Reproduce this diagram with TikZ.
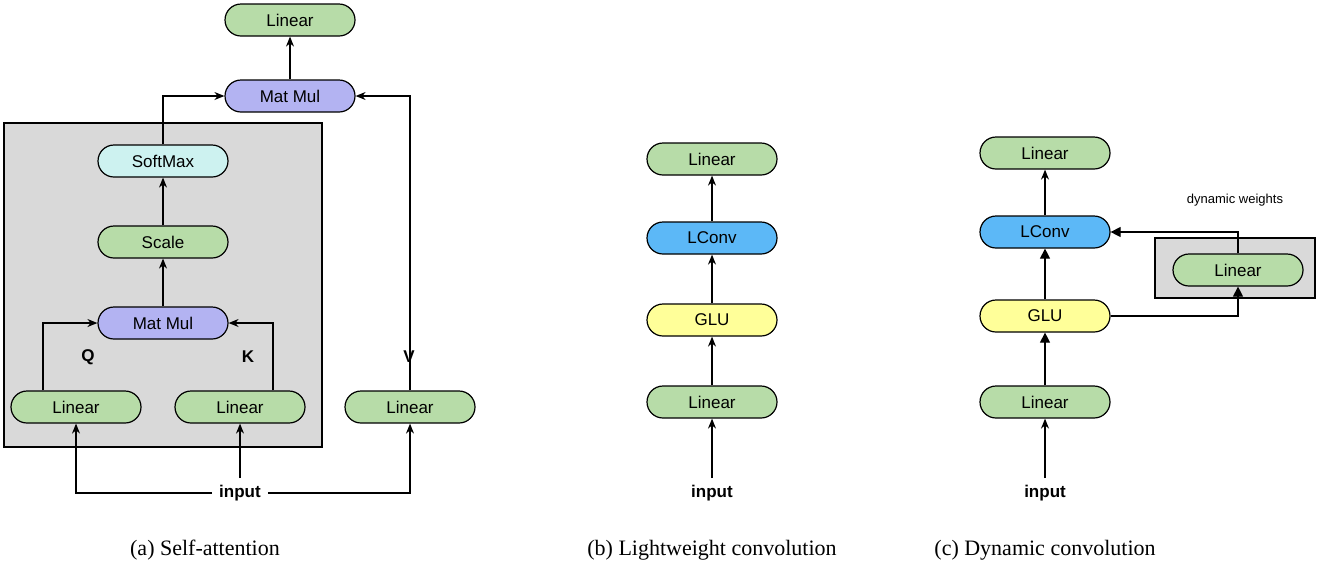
\documentclass[tikz,border=0pt]{standalone}
\usepackage{fontspec}
\setmainfont{Liberation Serif}
\newfontfamily\hsans{Liberation Sans}
\usetikzlibrary{arrows.meta}
\definecolor{cgreen}{HTML}{B7DCA8}
\definecolor{cpurp}{HTML}{B3B3F2}
\definecolor{ccyan}{HTML}{CDF2F0}
\definecolor{cblue}{HTML}{5CB8F7}
\definecolor{cyell}{HTML}{FFFF99}
\definecolor{cgray}{HTML}{D9D9D9}
\begin{document}
\begin{tikzpicture}[x=0.5pt,y=-0.5pt,
 blk/.style={draw=black,line width=0.6pt,rounded corners=8pt,minimum width=65pt,minimum height=16pt,inner sep=0pt,font=\hsans\fontsize{8.5}{10}\selectfont},
 lab/.style={font=\hsans\bfseries\fontsize{8.5}{10}\selectfont},
 captxt/.style={font=\fontsize{11}{13}\selectfont},
 ar/.style={line width=0.6pt,-{Stealth[length=5pt,width=4pt,open,fill=black]}},
 arf/.style={line width=0.6pt,-{Triangle[length=5pt,width=5pt]}},
 box/.style={draw=black,line width=0.6pt,fill=cgray}]
\useasboundingbox (0,0) rectangle (1325,570);
% (a)
\path[box] (4,123) rectangle (322,447);
\node[blk,fill=cgreen] (aL) at (290,20) {Linear};
\node[blk,fill=cpurp] (aM) at (290,96) {Mat Mul};
\node[blk,fill=ccyan] (aS) at (163,161) {SoftMax};
\node[blk,fill=cgreen] (aSc) at (163,242) {Scale};
\node[blk,fill=cpurp] (aM2) at (163,323) {Mat Mul};
\node[blk,fill=cgreen] (aQ) at (76,407) {Linear};
\node[blk,fill=cgreen] (aK) at (240,407) {Linear};
\node[blk,fill=cgreen] (aV) at (410,407) {Linear};
\node[lab] (lQ) at (88,357) {Q};
\node[lab] (lK) at (248,357) {K};
\node[lab] (lV) at (409,357) {V};
\node[lab] (ain) at (240,493) {input};
\draw[ar] (ain.west) -| (aQ.south);
\draw[ar] (ain.north) -- (aK.south);
\draw[ar] (ain.east) -| (aV.south);
\draw[ar] (aQ.north -| 43,0) |- (aM2.west);
\draw[ar] (aK.north -| 273,0) |- (aM2.east);
\draw[ar] (aM2) -- (aSc);
\draw[ar] (aSc) -- (aS);
\draw[ar] (aS.north) |- (aM.west);
\draw[ar] (aV.north) |- (aM.east);
\draw[ar] (aM) -- (aL);
\node[captxt] (ca) at (205,550) {(a) Self-attention};
% (b)
\node[blk,fill=cgreen] (bL) at (712,159) {Linear};
\node[blk,fill=cblue] (bC) at (712,238) {LConv};
\node[blk,fill=cyell] (bG) at (712,320) {GLU};
\node[blk,fill=cgreen] (bL2) at (712,402) {Linear};
\node[lab] (bin) at (712,493) {input};
\draw[ar] (bin) -- (bL2);
\draw[ar] (bL2) -- (bG);
\draw[ar] (bG) -- (bC);
\draw[ar] (bC) -- (bL);
\node[captxt] (cb) at (712,550) {(b) Lightweight convolution};
% (c)
\path[box] (1155,238) rectangle (1315,298);
\node[font=\hsans\fontsize{6.5}{8}\selectfont] (dw) at (1235,200) {dynamic weights};
\node[blk,fill=cgreen] (cL) at (1045,153) {Linear};
\node[blk,fill=cblue] (cC) at (1045,232) {LConv};
\node[blk,fill=cyell] (cG) at (1045,316) {GLU};
\node[blk,fill=cgreen] (cL2) at (1045,402) {Linear};
\node[blk,fill=cgreen] (cW) at (1238,270) {Linear};
\node[lab] (cin) at (1045,493) {input};
\draw[ar] (cin) -- (cL2);
\draw[arf] (cL2) -- (cG);
\draw[arf] (cG) -- (cC);
\draw[ar] (cC) -- (cL);
\draw[arf] (cW.north) |- (cC.east);
\draw[arf] (cG.east) -| (cW.south);
\node[captxt] (cc) at (1045,550) {(c) Dynamic convolution};
\end{tikzpicture}
\end{document}
